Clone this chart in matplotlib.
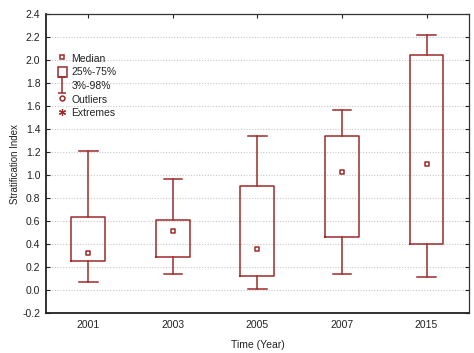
import matplotlib
matplotlib.use("Agg")
import matplotlib.pyplot as plt
from matplotlib.lines import Line2D
from matplotlib.patches import Rectangle
from matplotlib.path import Path

# values
years = ["2001", "2003", "2005", "2007", "2015"]
medians = [0.325, 0.517, 0.357, 1.034, 1.104]
q1 = [0.26, 0.29, 0.125, 0.467, 0.40]
q3 = [0.64, 0.615, 0.907, 1.345, 2.049]
low = [0.075, 0.142, 0.017, 0.142, 0.116]
high = [1.21, 0.97, 1.34, 1.572, 2.22]

plt.rcParams["font.family"] = ["Liberation Sans", "DejaVu Sans"]
plt.rcParams["axes.unicode_minus"] = False

color = "#9e2a2b"
positions = list(range(1, len(years) + 1))

fig = plt.figure(figsize=(4.74, 3.53), dpi=100)
ax = fig.add_axes([0.097, 0.112, 0.892, 0.847])

stats = []
for i, y in enumerate(years):
    stats.append({"label": y, "med": medians[i], "q1": q1[i], "q3": q3[i],
                  "whislo": low[i], "whishi": high[i], "fliers": []})

line = dict(color=color, linewidth=1.1)
ax.bxp(stats, positions=positions, widths=0.4, showfliers=False,
       boxprops=line, whiskerprops=line, capprops=line,
       medianprops=dict(linewidth=0), capwidths=0.22)
ax.scatter(positions, medians, marker="s", s=11, facecolor="white",
           edgecolor=color, linewidth=1.1, zorder=3)

ax.set_xlim(0.5, 5.5)
ax.set_ylim(-0.2, 2.4)
ax.set_yticks([round(-0.2 + 0.2 * k, 1) for k in range(14)])
ax.set_xticks(positions)
ax.set_xticklabels(years)
ax.yaxis.grid(True, linestyle=(0, (1, 1.5)), color="#c8c8c8", linewidth=0.8)
ax.set_axisbelow(True)

ax.tick_params(axis="both", direction="in", labelsize=7.5, colors="#222222")
ax.tick_params(axis="y", right=True, length=3, pad=4)
ax.tick_params(axis="x", top=True, bottom=False, length=3, pad=5)
for side in ["left", "bottom"]:
    ax.spines[side].set_linewidth(1.3)
    ax.spines[side].set_color("#222222")
for side in ["top", "right"]:
    ax.spines[side].set_linewidth(0.9)
    ax.spines[side].set_color("#333333")

ax.set_ylabel("Stratification Index", fontsize=7, color="#222222", labelpad=2)
ax.set_xlabel("Time (Year)", fontsize=7.5, color="#222222", labelpad=7)

# legend
whisk = Path([(-0.5, 1), (0.5, 1), (0, 1), (0, -1), (-0.5, -1), (0.5, -1)],
             [Path.MOVETO, Path.LINETO, Path.MOVETO, Path.LINETO, Path.MOVETO, Path.LINETO])
handles = [
    Line2D([], [], marker="s", ls="none", mfc="white", mec=color, ms=3.5, mew=1.1),
    Rectangle((0, 0), 1, 1, facecolor="white", edgecolor=color, linewidth=1.1),
    Line2D([], [], marker=whisk, ls="none", color=color, ms=12, mew=1.1),
    Line2D([], [], marker="o", ls="none", mfc="white", mec=color, ms=3.5, mew=1.1),
    Line2D([], [], marker=(6, 2, 0), ls="none", color=color, ms=5, mew=0.9),
]
labels = ["Median", "25%-75%", "3%-98%", "Outliers", "Extremes"]
leg = ax.legend(handles, labels, loc="upper left", bbox_to_anchor=(0.018, 0.885),
                frameon=False, fontsize=7.5, handlelength=0.9, handleheight=1.1,
                handletextpad=0.4, labelspacing=0.3, borderaxespad=0)
for t in leg.get_texts():
    t.set_color("#222222")

fig.savefig("out.png", dpi=100)
